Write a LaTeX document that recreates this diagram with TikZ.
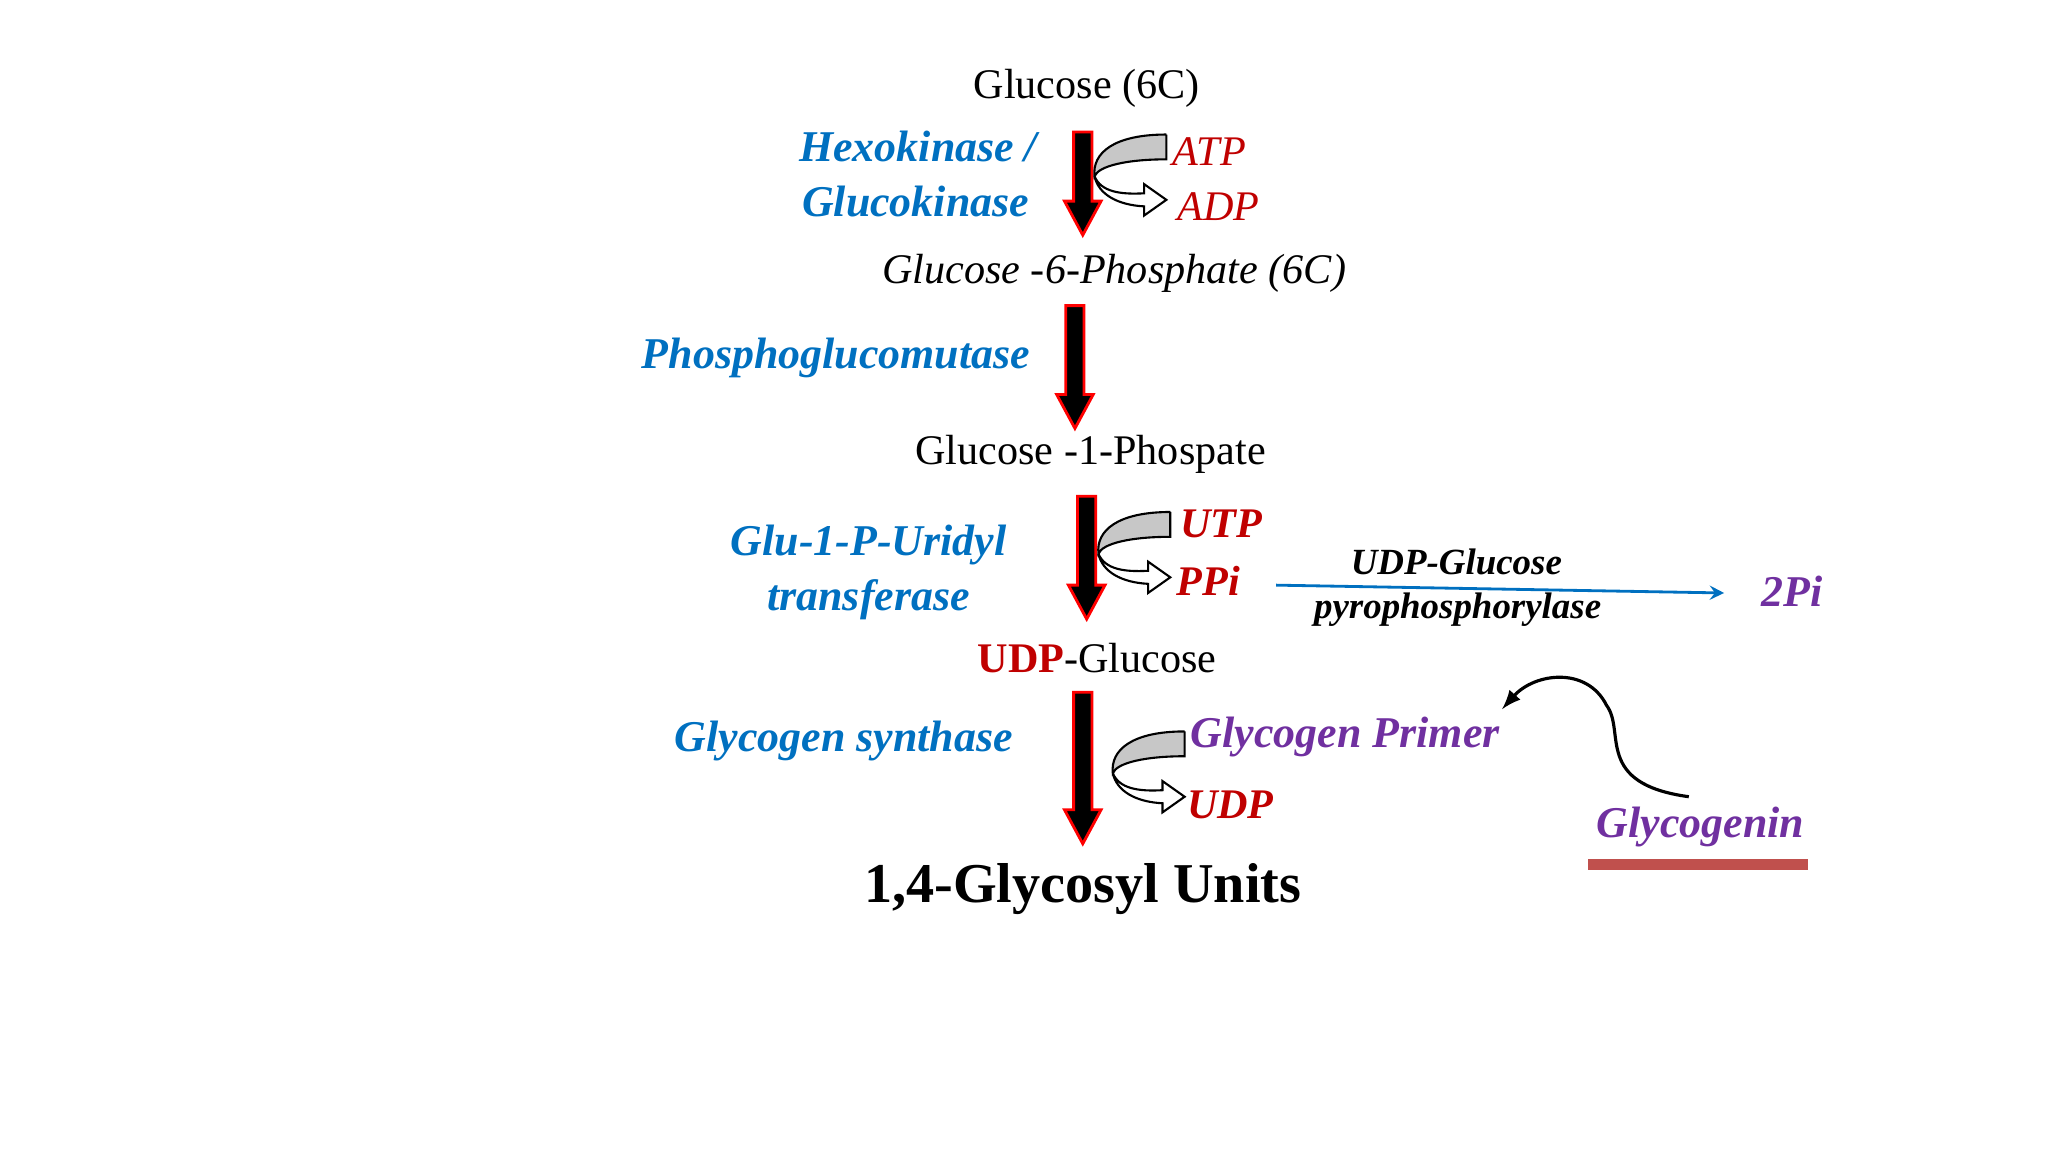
\documentclass[tikz,border=0pt]{standalone}
\usepackage{fontspec}
\setmainfont{Liberation Serif}
\begin{document}
\begin{tikzpicture}[x=0.013061cm,y=-0.013061cm,
  bigarrow/.style={fill=black,draw=red,line width=0.8pt},
  enz/.style={text=enzblue,font=\fontsize{12.5}{14}\selectfont\bfseries\itshape},
  met/.style={font=\fontsize{12}{14}\selectfont},
  cof/.style={text=cofred,font=\fontsize{12}{14}\selectfont\itshape},
  cofb/.style={text=cofred,font=\fontsize{12}{14}\selectfont\bfseries\itshape},
  purp/.style={text=purp,font=\fontsize{12.5}{14}\selectfont\bfseries\itshape}]
\definecolor{enzblue}{RGB}{0,112,192}
\definecolor{cofred}{RGB}{192,0,0}
\definecolor{purp}{RGB}{112,48,160}
\useasboundingbox (0,0) rectangle (1568,882);
\newcommand{\bigarr}[3]{\draw[bigarrow] (#1-7,#2) -- (#1+7,#2) -- (#1+7,#3-26) -- (#1+14,#3-26) -- (#1,#3) -- (#1-14,#3-26) -- (#1-7,#3-26) -- cycle;}
\newcommand{\sidearr}[2]{\begin{scope}[shift={(#1,#2)}]
 \draw[fill=black!22,line width=0.6pt] (55,0) -- (55,19) .. controls (25,19) and (3,24) .. (0,32) .. controls (-2,14) and (15,0) .. (55,0);
 \draw[fill=white,line width=0.6pt] (0,32) .. controls (5,44) and (20,46) .. (38,45) -- (38,38) -- (55,50) -- (38,62) -- (38,55) .. controls (18,54) and (3,46) .. (0,32);
\end{scope}}
\bigarr{829}{101}{180}
\bigarr{823}{234}{328}
\bigarr{832}{380}{474}
\bigarr{829}{530}{646}
\sidearr{838}{103}
\sidearr{841}{392}
\sidearr{852}{560}
\node[met] (g) at (832,68) {Glucose (6C)};
\node[enz] (hk1) at (703,112) {Hexokinase /};
\node[enz] (hk2) at (701,154) {Glucokinase};
\node[cof] (atp) at (926,116) {ATP};
\node[cof] (adp) at (933,158) {ADP};
\node[met,font=\fontsize{12}{14}\selectfont\itshape] (g6p) at (853,209) {Glucose -6-Phosphate (6C)};
\node[enz] (pgm) at (640,274) {Phosphoglucomutase};
\node[met] (g1p) at (835,348) {Glucose -1-Phospate};
\node[enz] (ut1) at (665,417) {Glu-1-P-Uridyl};
\node[enz] (ut2) at (665,459) {transferase};
\node[cofb] (utp) at (935,401) {UTP};
\node[cofb] (ppi) at (925,445) {PPi};
\node[font=\fontsize{10.5}{12}\selectfont\bfseries\itshape] (up1) at (1115,430) {UDP-Glucose};
\node[font=\fontsize{10.5}{12}\selectfont\bfseries\itshape] (up2) at (1116,467) {pyrophosphorylase};
\node[purp] (pi) at (1372,453) {2Pi};
\coordinate (ls) at (977,448);
\coordinate (le) at (1320,454);
\draw[enzblue,line width=0.8pt,-stealth] (ls) -- (le);
\node[met] (udpg) at (840,504) {\textcolor{cofred}{\bfseries UDP}-Glucose};
\node[enz] (gs) at (646,567) {Glycogen synthase};
\node[purp] (gp) at (1030,564) {Glycogen Primer};
\node[cofb] (udp) at (942,616) {UDP};
\node[purp] (gn) at (1302,633) {Glycogenin};
\node[font=\fontsize{16}{18}\selectfont\bfseries] (gu) at (829,681) {1,4-Glycosyl Units};
\coordinate (cs) at (1293,610);
\coordinate (ce) at (1150,543);
\draw[line width=0.9pt,-latex] (cs) .. controls (1220,600) and (1245,560) .. (1230,540) .. controls (1215,510) and (1175,515) .. (ce);
\draw[line width=3pt,draw={rgb,255:red,192;green,80;blue,77}] (1216,662) -- (1384,662);
\end{tikzpicture}
\end{document}
